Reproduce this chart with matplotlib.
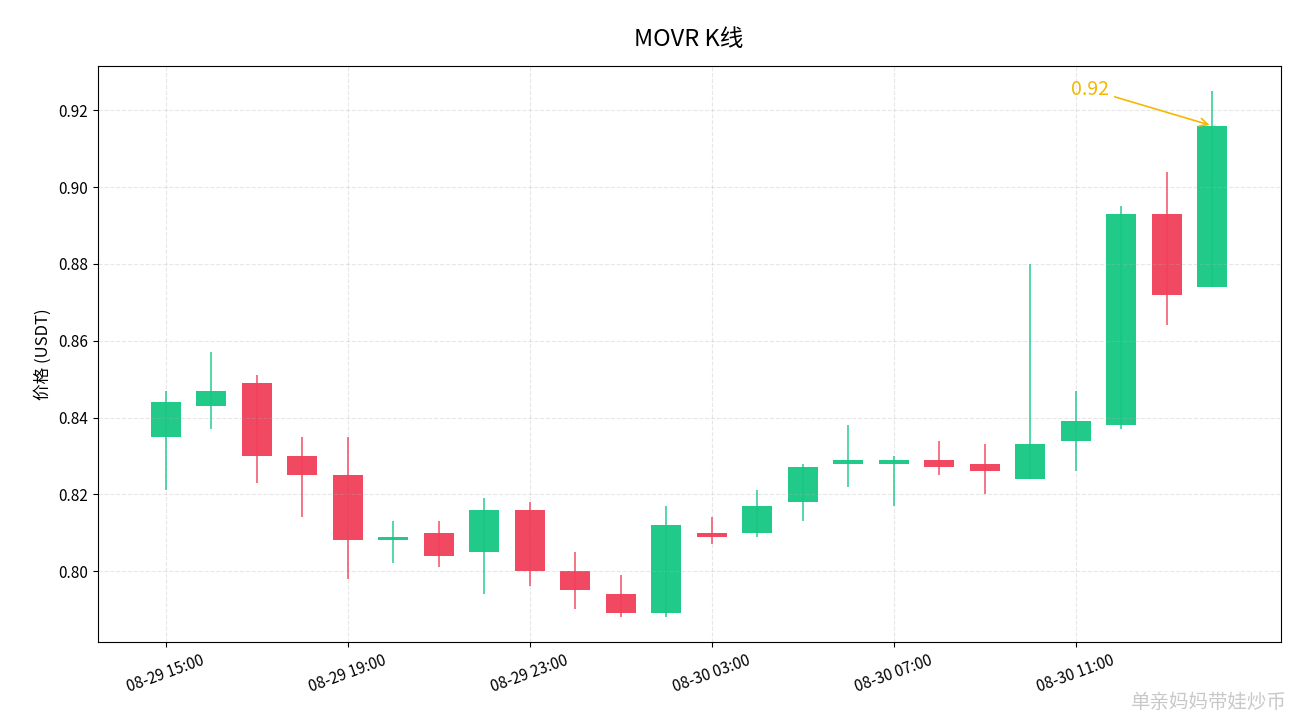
import matplotlib.pyplot as plt
import numpy as np
from datetime import datetime, timedelta
import matplotlib.dates as mdates

plt.rcParams['font.family'] = ['Noto Sans CJK SC', 'DejaVu Sans']

OPEN, CLOSE, HIGH, LOW = 0, 1, 2, 3

candles = [
    (0.835, 0.844, 0.847, 0.821),
    (0.843, 0.847, 0.857, 0.837),
    (0.849, 0.830, 0.851, 0.823),
    (0.830, 0.825, 0.835, 0.814),
    (0.825, 0.808, 0.835, 0.798),
    (0.808, 0.809, 0.813, 0.802),
    (0.810, 0.804, 0.813, 0.801),
    (0.805, 0.816, 0.819, 0.794),
    (0.816, 0.800, 0.818, 0.796),
    (0.800, 0.795, 0.805, 0.790),
    (0.794, 0.789, 0.799, 0.788),
    (0.789, 0.812, 0.817, 0.788),
    (0.810, 0.809, 0.814, 0.807),
    (0.810, 0.817, 0.821, 0.809),
    (0.818, 0.827, 0.828, 0.813),
    (0.828, 0.829, 0.838, 0.822),
    (0.828, 0.829, 0.830, 0.817),
    (0.829, 0.827, 0.834, 0.825),
    (0.828, 0.826, 0.833, 0.820),
    (0.824, 0.833, 0.880, 0.824),
    (0.834, 0.839, 0.847, 0.826),
    (0.838, 0.893, 0.895, 0.837),
    (0.893, 0.872, 0.904, 0.864),
    (0.874, 0.916, 0.925, 0.874),
]

start = datetime(2024, 8, 29, 15)
times = [start + timedelta(hours=i) for i in range(len(candles))]
x = mdates.date2num(times)
width = 0.65 / 24  # body width in days

green, red = "#16c784", "#f23f5a"

figure, ax = plt.subplots(figsize=(13, 7.28), dpi=100)

for xi, c in zip(x, candles):
    color = green if c[CLOSE] >= c[OPEN] else red
    ax.vlines(xi, c[LOW], c[HIGH], color=color, linewidth=1.2, alpha=0.85)
    bottom = min(c[OPEN], c[CLOSE])
    height = max(abs(c[CLOSE] - c[OPEN]), 0.0008)
    ax.bar(xi, height, width, bottom=bottom, color=color, alpha=0.95)

top = candles[-1]
ax.annotate(f"{top[CLOSE]:.2f}", xy=(x[-1], top[CLOSE]),
            xytext=(x[-1] - 3.1 / 24, top[CLOSE] + 0.008),
            color="#f5b800", fontsize=14,
            arrowprops=dict(arrowstyle="->", color="#f5b800", lw=1.2))

ax.set_xlim(x[0] - 1.5 / 24, x[-1] + 1.5 / 24)
ax.set_ylim(0.7815, 0.9317)
ax.set_xticks(x[::4])
ax.xaxis.set_major_formatter(mdates.DateFormatter("%m-%d %H:%M"))
plt.setp(ax.get_xticklabels(), rotation=20, fontsize=11)
plt.setp(ax.get_yticklabels(), fontsize=11)
ax.grid(True, linestyle="--", alpha=0.3)
ax.set_ylabel("价格 (USDT)", fontsize=12)
ax.set_title("MOVR K线", fontsize=17, pad=14)

figure.text(0.99, 0.02, "单亲妈妈带娃炒币", ha="right", va="bottom",
            fontsize=14, color="#bbbbbb", alpha=0.8)

plt.subplots_adjust(left=0.075, right=0.985, top=0.91, bottom=0.118)
plt.savefig("out.png")
